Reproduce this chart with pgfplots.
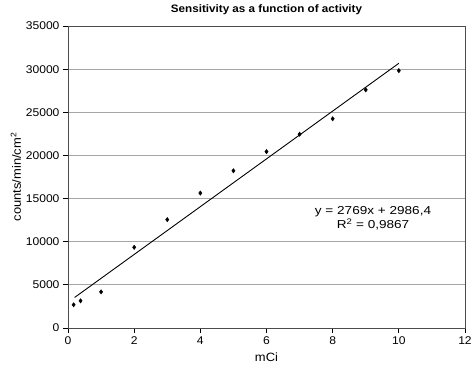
\documentclass[border=0pt]{standalone}
\usepackage{pgfplots}
\pgfplotsset{compat=1.18}
\usepackage{fontspec}
\setmainfont{Liberation Sans}
\newfontfamily\widefont[FakeStretch=1.18]{Liberation Sans}
\newfontfamily\midfont[FakeStretch=1.08]{Liberation Sans}
\begin{document}
\begin{tikzpicture}
\begin{axis}[
  scale only axis,
  width=397pt, height=302pt,
  xmin=0, xmax=12, ymin=0, ymax=35000,
  xtick={0,2,...,12}, ytick={0,5000,...,35000},
  scaled y ticks=false,
  /pgf/number format/assume math mode=true,
  /pgf/number format/set thousands separator={},
  tick label style={font=\midfont\fontsize{11.2}{12}\selectfont},
  tick align=outside,
  major tick length=5pt,
  xtick pos=bottom, ytick pos=left,
  ymajorgrids,
  grid style={gray!70, line width=0.8pt},
  axis line style={gray!60!black, line width=0.8pt},
  tick style={black, line width=0.8pt},
  xlabel={mCi},
  ylabel={counts/min/cm\textsuperscript{2}},
  label style={font=\midfont\fontsize{12}{12}\selectfont},
  xlabel style={yshift=-1pt},
  ylabel style={yshift=-2pt},
  title={\textbf{Sensitivity as a function of activity}},
  title style={font=\midfont\fontsize{10.8}{12}\selectfont, yshift=2pt},
]
\addplot[only marks, mark=diamond*, mark size=2.2pt, black] coordinates {
(0.17,2690) (0.38,3150) (1,4190) (2,9350) (3,12560) (4,15640) (5,18220)
(6,20440) (7,22460) (8,24250) (9,27600) (10,29830)
};
\addplot[black, line width=0.9pt] coordinates {(0.2,3540) (10,30676)};
\node[font=\widefont\fontsize{11.5}{12}\selectfont, align=center] at (axis cs:9.22,12700)
  {y = 2769x + 2986,4\\[1pt] R\textsuperscript{2} = 0,9867};
\end{axis}
\pgfresetboundingbox
\path ([shift={(-68pt,-37pt)}]current axis.south west) rectangle ([shift={(9pt,26pt)}]current axis.north east);
\end{tikzpicture}
\end{document}
